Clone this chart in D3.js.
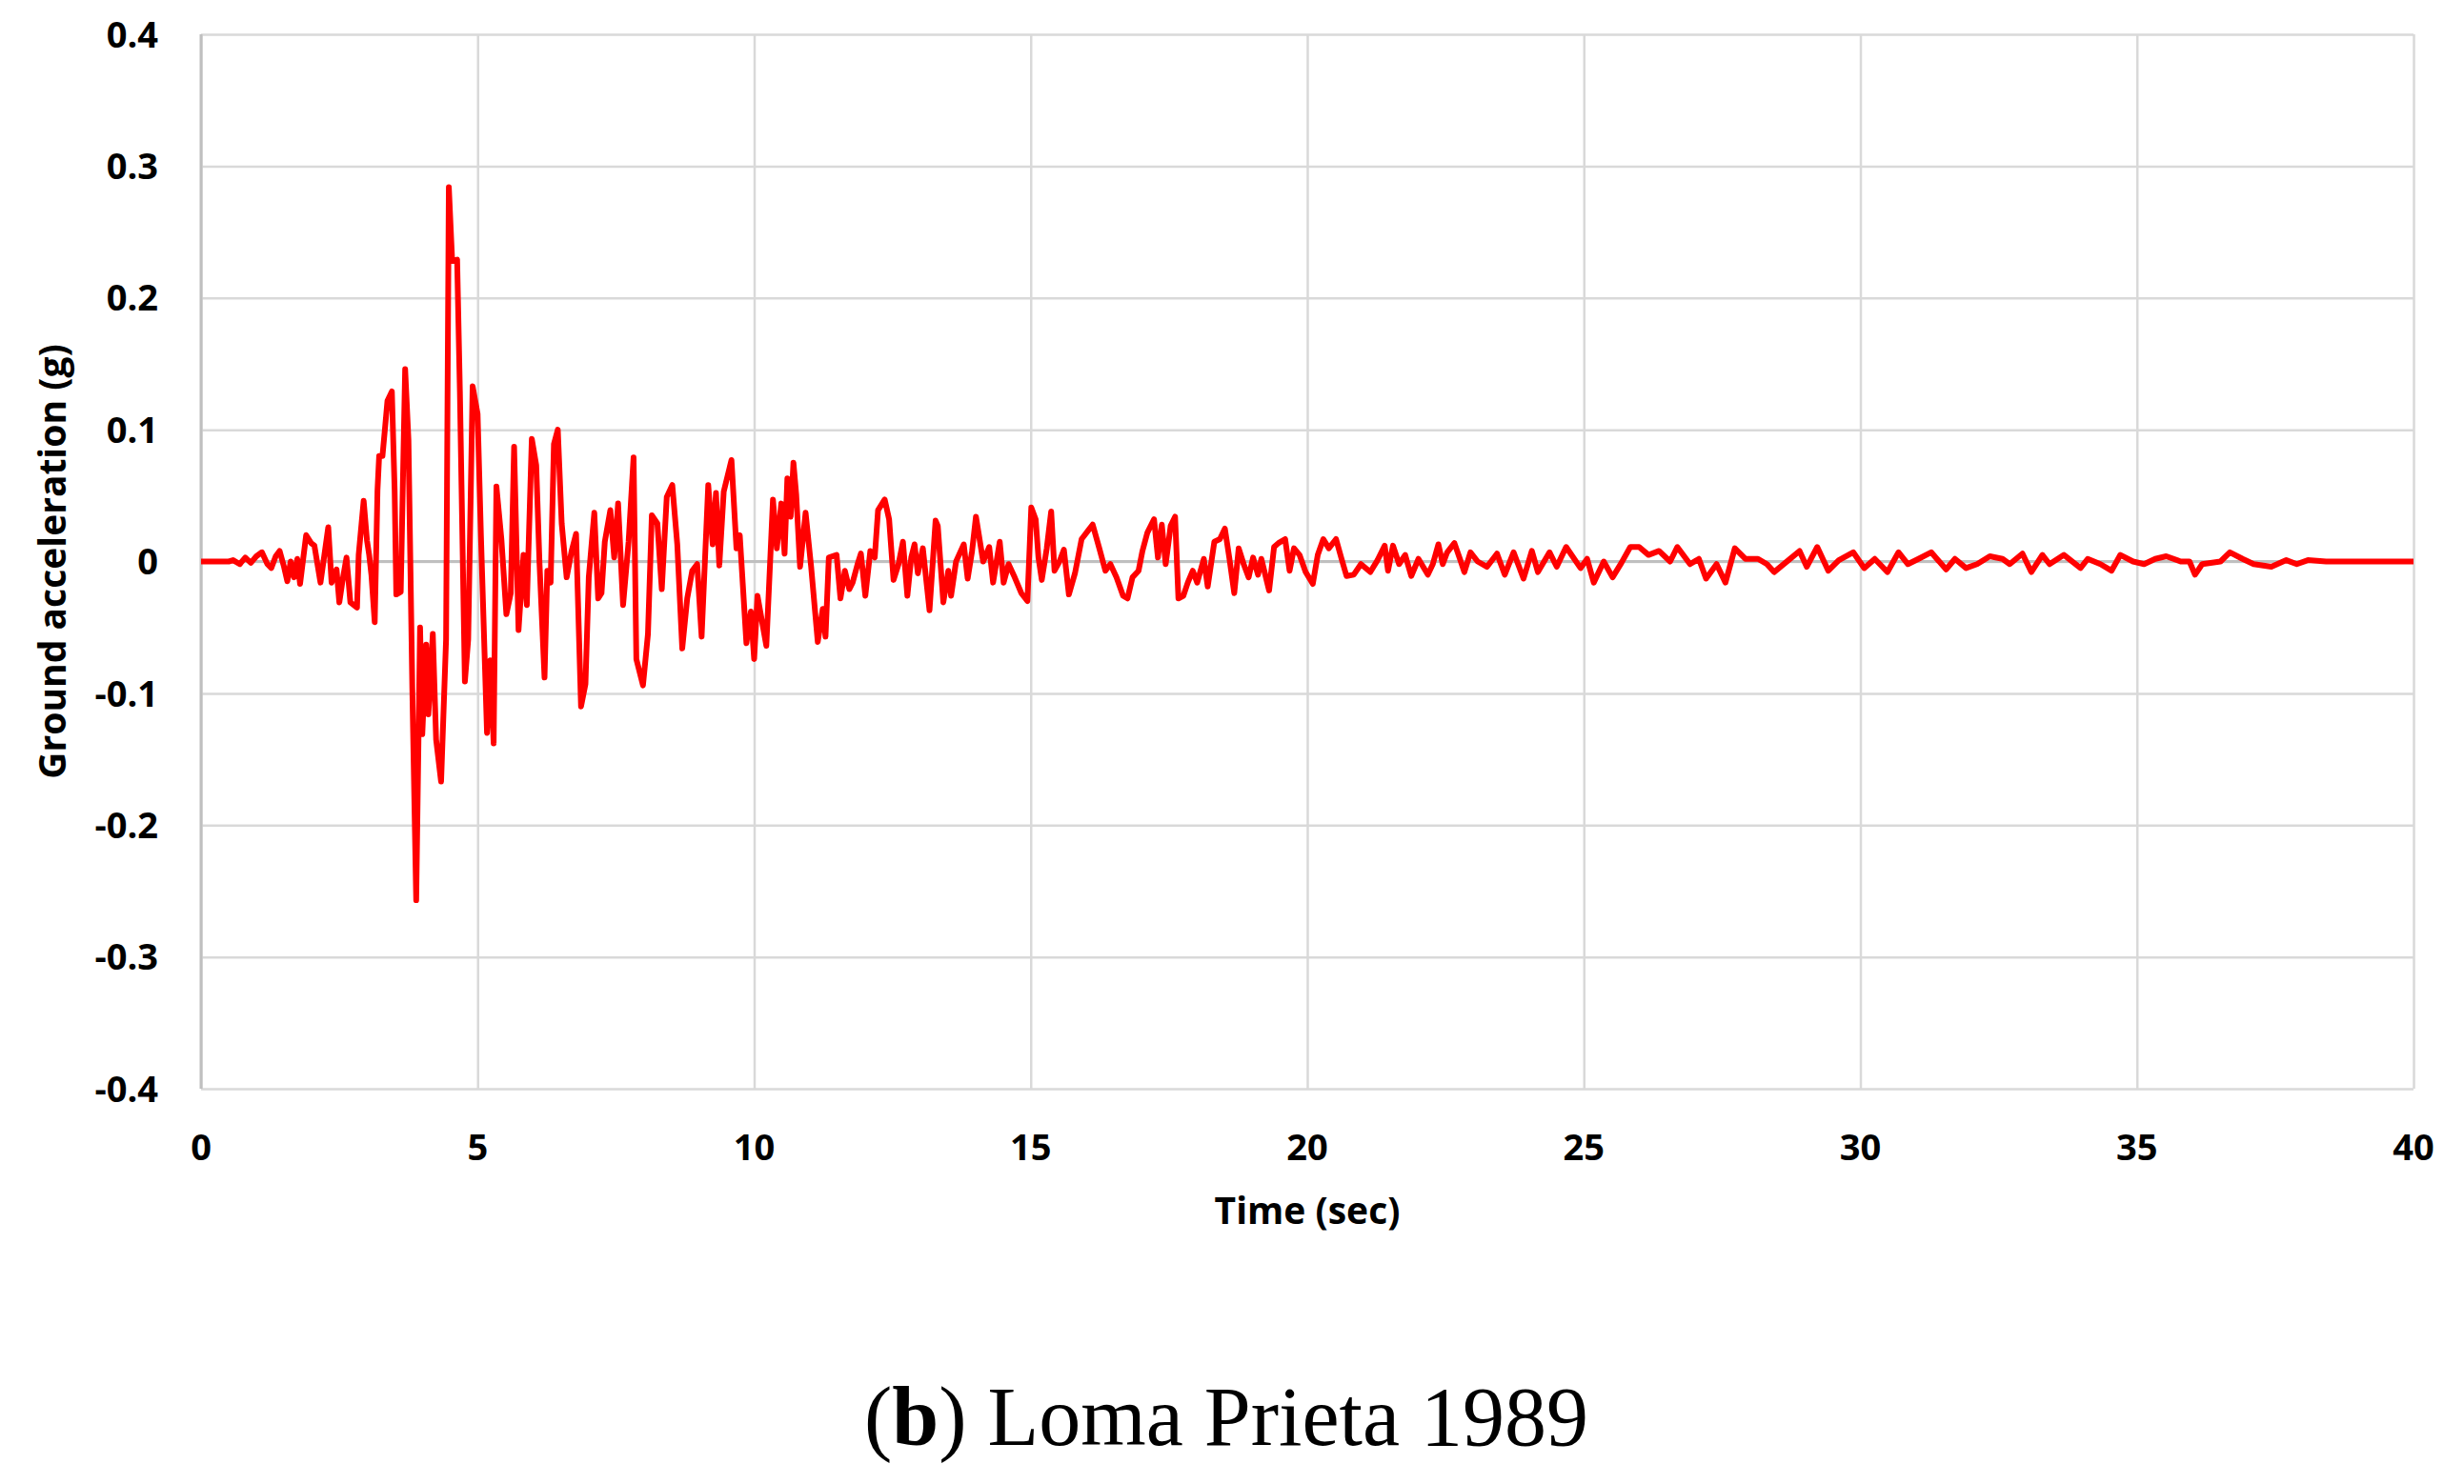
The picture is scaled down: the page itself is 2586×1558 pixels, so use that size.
<!DOCTYPE html>
<html>
<head>
<meta charset="utf-8">
<script src="https://cdn.jsdelivr.net/npm/d3@7"></script>
<style>
    body { margin: 0; background: #ffffff; }
    .tick-label { font-family: "Open Sans", "Noto Sans", sans-serif; font-weight: 700; font-size: 38px; fill: #000; }
    .axis-title { font-family: "Open Sans", "Noto Sans", sans-serif; font-weight: 700; font-size: 39px; fill: #000; }
    .caption { font-family: "Liberation Serif", "DejaVu Serif", serif; font-size: 88px; fill: #000; }
</style>
</head>
<body>
<div id="chart"></div>
<script>
// Ground acceleration record (time in sec, acceleration in g)
var timeSec = [
    0, 0.5, 0.58, 0.7, 0.8, 0.9, 1.0, 1.1, 1.2, 1.27, 1.35, 1.42, 1.5, 1.56, 1.62, 1.68, 1.74, 1.79, 1.9, 1.99,
    2.05, 2.16, 2.3, 2.36, 2.45, 2.5, 2.56, 2.63, 2.7, 2.82, 2.85, 2.94, 3.0, 3.04, 3.08, 3.14, 3.19, 3.22, 3.28, 3.33,
    3.37, 3.45, 3.5, 3.53, 3.61, 3.69, 3.75, 3.82, 3.89, 3.96, 4.0, 4.07, 4.11, 4.19, 4.25, 4.34, 4.43, 4.48, 4.54, 4.63,
    4.68, 4.77, 4.83, 4.91, 5.0, 5.06, 5.17, 5.23, 5.29, 5.34, 5.43, 5.52, 5.6, 5.66, 5.74, 5.83, 5.89, 5.98, 6.06, 6.12,
    6.21, 6.26, 6.32, 6.38, 6.45, 6.52, 6.61, 6.7, 6.78, 6.87, 6.95, 7.01, 7.11, 7.18, 7.24, 7.3, 7.4, 7.47, 7.54, 7.63,
    7.73, 7.82, 7.87, 7.99, 8.08, 8.15, 8.25, 8.33, 8.42, 8.52, 8.61, 8.7, 8.79, 8.88, 8.97, 9.05, 9.17, 9.25, 9.31, 9.37,
    9.45, 9.59, 9.68, 9.74, 9.86, 9.94, 10.0, 10.06, 10.14, 10.22, 10.34, 10.41, 10.49, 10.55, 10.6, 10.66, 10.71, 10.76, 10.83, 10.93,
    11.03, 11.15, 11.24, 11.29, 11.35, 11.49, 11.56, 11.64, 11.72, 11.78, 11.87, 11.93, 12.01, 12.1, 12.18, 12.24, 12.36, 12.44, 12.52, 12.61,
    12.69, 12.77, 12.84, 12.9, 12.96, 13.05, 13.17, 13.28, 13.32, 13.42, 13.51, 13.56, 13.65, 13.79, 13.86, 13.94, 14.01, 14.14, 14.25, 14.32,
    14.44, 14.51, 14.6, 14.71, 14.83, 14.94, 15.01, 15.09, 15.14, 15.2, 15.29, 15.37, 15.43, 15.52, 15.6, 15.69, 15.8, 15.92, 16.03, 16.12,
    16.24, 16.35, 16.44, 16.55, 16.67, 16.75, 16.84, 16.95, 17.02, 17.11, 17.23, 17.3, 17.37, 17.44, 17.53, 17.61, 17.67, 17.76, 17.84, 17.93,
    18.01, 18.13, 18.2, 18.32, 18.42, 18.51, 18.59, 18.68, 18.76, 18.85, 18.94, 19.02, 19.11, 19.17, 19.31, 19.4, 19.48, 19.6, 19.68, 19.76,
    19.86, 19.97, 20.1, 20.19, 20.29, 20.39, 20.52, 20.62, 20.71, 20.84, 20.97, 21.14, 21.27, 21.4, 21.46, 21.55, 21.66, 21.77, 21.88, 22.01,
    22.18, 22.27, 22.37, 22.45, 22.53, 22.66, 22.76, 22.84, 22.95, 23.08, 23.25, 23.43, 23.57, 23.73, 23.91, 24.06, 24.17, 24.38, 24.51, 24.68,
    24.94, 25.06, 25.18, 25.36, 25.52, 25.68, 25.84, 26.0, 26.17, 26.36, 26.56, 26.69, 26.92, 27.08, 27.21, 27.4, 27.56, 27.73, 27.92, 28.15,
    28.31, 28.44, 28.7, 28.9, 29.03, 29.22, 29.42, 29.61, 29.87, 30.07, 30.26, 30.49, 30.69, 30.86, 31.05, 31.28, 31.55, 31.71, 31.91, 32.11,
    32.34, 32.57, 32.7, 32.93, 33.09, 33.29, 33.42, 33.68, 33.98, 34.11, 34.34, 34.54, 34.7, 34.93, 35.13, 35.33, 35.53, 35.79, 35.95, 36.05,
    36.18, 36.51, 36.68, 36.91, 37.11, 37.43, 37.7, 37.89, 38.09, 38.42, 38.75, 40
];

var accelG = [
    0, 0, 0.001, -0.002, 0.003, -0.001, 0.004, 0.007, -0.002, -0.005, 0.004, 0.008, -0.004, -0.015, 0.0, -0.012, 0.002, -0.017, 0.02, 0.014,
    0.012, -0.016, 0.026, -0.016, -0.006, -0.031, -0.014, 0.003, -0.031, -0.035, 0.005, 0.046, 0.016, 0.005, -0.01, -0.046, 0.054, 0.08, 0.08, 0.103,
    0.122, 0.129, 0.054, -0.025, -0.023, 0.146, 0.092, -0.097, -0.257, -0.05, -0.131, -0.063, -0.116, -0.055, -0.135, -0.167, -0.059, 0.284, 0.228, 0.229,
    0.129, -0.091, -0.059, 0.133, 0.112, 0.02, -0.13, -0.075, -0.138, 0.057, 0.017, -0.04, -0.024, 0.087, -0.052, 0.005, -0.033, 0.093, 0.073, -0.002,
    -0.088, -0.007, -0.016, 0.089, 0.1, 0.029, -0.012, 0.008, 0.021, -0.11, -0.093, -0.012, 0.037, -0.028, -0.024, 0.015, 0.039, 0.003, 0.044, -0.033,
    0.015, 0.079, -0.074, -0.094, -0.055, 0.035, 0.029, -0.021, 0.049, 0.058, 0.013, -0.066, -0.028, -0.007, -0.002, -0.057, 0.058, 0.013, 0.052, -0.003,
    0.053, 0.077, 0.01, 0.02, -0.062, -0.038, -0.074, -0.026, -0.045, -0.064, 0.047, 0.01, 0.044, 0.006, 0.063, 0.034, 0.075, 0.051, -0.004, 0.037,
    -0.004, -0.061, -0.036, -0.057, 0.003, 0.005, -0.028, -0.007, -0.021, -0.016, -0.002, 0.006, -0.026, 0.008, 0.003, 0.039, 0.047, 0.032, -0.014, -0.002,
    0.015, -0.026, 0.003, 0.013, -0.009, 0.01, -0.037, 0.031, 0.027, -0.031, -0.007, -0.026, 0.0, 0.013, -0.013, 0.008, 0.034, 0.0, 0.011, -0.016,
    0.015, -0.016, -0.002, -0.012, -0.024, -0.03, 0.041, 0.032, 0.003, -0.014, 0.01, 0.038, -0.007, 0.0, 0.009, -0.025, -0.009, 0.017, 0.023, 0.028,
    0.01, -0.007, -0.002, -0.012, -0.026, -0.028, -0.012, -0.007, 0.008, 0.022, 0.032, 0.003, 0.028, -0.002, 0.027, 0.034, -0.028, -0.026, -0.016, -0.007,
    -0.016, 0.002, -0.019, 0.015, 0.017, 0.025, 0.003, -0.024, 0.01, -0.002, -0.012, 0.003, -0.01, 0.002, -0.022, 0.011, 0.014, 0.017, -0.007, 0.01,
    0.005, -0.008, -0.017, 0.005, 0.017, 0.01, 0.017, 0.002, -0.011, -0.01, -0.002, -0.008, 0.001, 0.012, -0.007, 0.012, -0.002, 0.005, -0.011, 0.002,
    -0.01, -0.002, 0.013, -0.002, 0.007, 0.014, 0.002, -0.008, 0.007, 0.0, -0.004, 0.006, -0.01, 0.007, -0.013, 0.008, -0.008, 0.007, -0.004, 0.011,
    -0.005, 0.002, -0.016, 0.0, -0.012, -0.001, 0.011, 0.011, 0.005, 0.008, 0.0, 0.011, -0.002, 0.002, -0.013, -0.002, -0.016, 0.01, 0.002, 0.002,
    -0.002, -0.008, 0.001, 0.008, -0.004, 0.011, -0.007, 0.001, 0.007, -0.005, 0.002, -0.008, 0.007, -0.002, 0.002, 0.007, -0.006, 0.002, -0.005, -0.002,
    0.004, 0.002, -0.002, 0.006, -0.008, 0.005, -0.002, 0.005, -0.005, 0.002, -0.002, -0.007, 0.005, 0.0, -0.002, 0.002, 0.004, 0.0, 0.0, -0.01,
    -0.002, 0.0, 0.007, 0.002, -0.002, -0.004, 0.001, -0.002, 0.001, 0.0, 0.0, 0
];

var xTicks = [0, 5, 10, 15, 20, 25, 30, 35, 40];
var yTicks = [-0.4, -0.3, -0.2, -0.1, 0, 0.1, 0.2, 0.3, 0.4];

var xTitle = "Time (sec)";
var yTitle = "Ground acceleration (g)";

var totalWidth = 2586,
    totalHeight = 1558;

var margin = {top: 36, right: 53, bottom: 415, left: 211},
    width = totalWidth - margin.left - margin.right,
    height = totalHeight - margin.top - margin.bottom;

var data = [];
timeSec.forEach(function (t, i) {
    data.push({t: t, a: accelG[i]});
});

var svg = d3.select("#chart").append("svg")
    .attr("width", totalWidth)
    .attr("height", totalHeight);

svg.append("rect")
    .attr("width", totalWidth)
    .attr("height", totalHeight)
    .attr("fill", "#ffffff");

var g = svg.append("g")
    .attr("transform", "translate(" + margin.left + "," + margin.top + ")");

var x = d3.scaleLinear().domain([0, 40]).range([0, width]),
    y = d3.scaleLinear().domain([-0.4, 0.4]).range([height, 0]);

// gridlines
g.append("g")
    .attr("class", "grid-y")
    .call(d3.axisLeft(y).tickValues(yTicks).tickSize(-width).tickFormat(""))
    .call(function (sel) {
        sel.select(".domain").remove();
        sel.selectAll("line").attr("stroke", "#d9d9d9").attr("stroke-width", 2.5);
    });

g.append("g")
    .attr("class", "grid-x")
    .attr("transform", "translate(0," + height + ")")
    .call(d3.axisBottom(x).tickValues(xTicks).tickSize(-height).tickFormat(""))
    .call(function (sel) {
        sel.select(".domain").remove();
        sel.selectAll("line").attr("stroke", "#d9d9d9").attr("stroke-width", 2.5);
    });

// vertical axis line and the horizontal axis through zero
g.append("line")
    .attr("x1", 0).attr("x2", 0)
    .attr("y1", 0).attr("y2", height)
    .attr("stroke", "#bfbfbf")
    .attr("stroke-width", 3);

g.append("line")
    .attr("x1", 0).attr("x2", width)
    .attr("y1", y(0)).attr("y2", y(0))
    .attr("stroke", "#bfbfbf")
    .attr("stroke-width", 3);

// tick labels (plain hyphen for negatives, as in the original)
g.selectAll(".ylab")
    .data(yTicks)
    .enter().append("text")
    .attr("class", "tick-label")
    .attr("x", -45)
    .attr("y", function (d) { return y(d); })
    .attr("dy", "0.36em")
    .attr("text-anchor", "end")
    .text(function (d) { return String(+d.toFixed(1)); });

g.selectAll(".xlab")
    .data(xTicks)
    .enter().append("text")
    .attr("class", "tick-label")
    .attr("x", function (d) { return x(d); })
    .attr("y", height + 61)
    .attr("dy", "0.36em")
    .attr("text-anchor", "middle")
    .text(function (d) { return d; });

// the record itself
var line = d3.line()
    .x(function (d) { return x(d.t); })
    .y(function (d) { return y(d.a); });

g.append("path")
    .datum(data)
    .attr("fill", "none")
    .attr("stroke", "#ff0000")
    .attr("stroke-width", 6)
    .attr("stroke-linejoin", "round")
    .attr("d", line);

// axis titles
g.append("text")
    .attr("class", "axis-title")
    .attr("x", width / 2)
    .attr("y", height + 128)
    .attr("dy", "0.36em")
    .attr("text-anchor", "middle")
    .text(xTitle);

g.append("text")
    .attr("class", "axis-title")
    .attr("transform", "translate(" + (55 - margin.left) + "," + y(0) + ") rotate(-90)")
    .attr("dy", "0.36em")
    .attr("text-anchor", "middle")
    .text(yTitle);

// caption under the chart
var caption = svg.append("text")
    .attr("class", "caption")
    .attr("x", 1287)
    .attr("y", 1517)
    .attr("text-anchor", "middle");
caption.append("tspan").text("(");
caption.append("tspan").attr("font-weight", "bold").text("b");
caption.append("tspan").text(") Loma Prieta 1989");
</script>
</body>
</html>
